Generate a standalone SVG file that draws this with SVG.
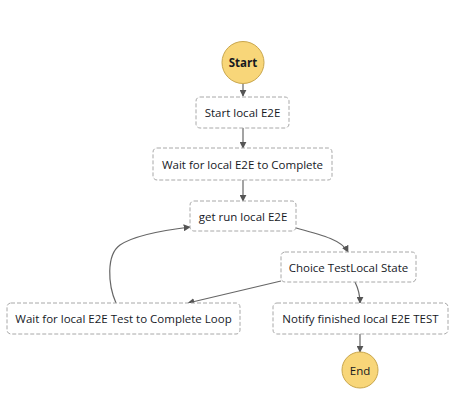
<svg xmlns="http://www.w3.org/2000/svg" width="474" height="402" viewBox="0 0 474 402">
<style>
.box{fill:#fff;stroke:#a8a8a8;stroke-width:1;stroke-dasharray:4 2}
.term{fill:#f8d679;stroke:#c9a64c;stroke-width:1}
.t{font-family:"Open Sans","Liberation Sans",sans-serif;font-size:11.5px;font-weight:500;fill:#16191f;text-anchor:middle;dominant-baseline:central}
.tb{font-weight:bold}
.e{fill:none;stroke:#666;stroke-width:1.2;marker-end:url(#ah)}
</style>
<defs>
<marker id="ah" viewBox="0 0 10 10" refX="9" refY="5" markerWidth="7" markerHeight="7" markerUnits="userSpaceOnUse" orient="auto">
<path d="M0,0 L10,5 L0,10 z" fill="#555"/>
</marker>
</defs>
<rect width="474" height="402" fill="#fff"/>
<g id="edges">
<path class="e" d="M243,84 L243,96"/>
<path class="e" d="M243,128 L243,148"/>
<path class="e" d="M243,180 L243,201"/>
<path class="e" d="M296,228 C322,235 342,240 348,252"/>
<path class="e" d="M281,281 L188,303"/>
<path class="e" d="M355,282 C359,290 360,296 360,303"/>
<path class="e" d="M360,334 L360,352"/>
<path class="e" d="M116,303 C108,285 106,255 120,245 C135,235 165,230 190,227"/>
</g>
<g id="start"><circle class="term" cx="243" cy="62.5" r="21"/><text class="t tb" x="243" y="62.5">Start</text></g>
<g id="startLocal"><rect class="box" x="196" y="97" width="93" height="31" rx="4"/><text class="t" x="242.5" y="112.5">Start local E2E</text></g>
<g id="waitLocal"><rect class="box" x="153" y="148" width="179" height="32" rx="4"/><text class="t" x="242.5" y="164">Wait for local E2E to Complete</text></g>
<g id="getRun"><rect class="box" x="190" y="201" width="106" height="30" rx="4"/><text class="t" x="243" y="216">get run local E2E</text></g>
<g id="choice"><rect class="box" x="281" y="252" width="135" height="30" rx="4"/><text class="t" x="348.5" y="267">Choice TestLocal State</text></g>
<g id="waitLoop"><rect class="box" x="7" y="303" width="233" height="31" rx="4"/><text class="t" x="123.5" y="318.5">Wait for local E2E Test to Complete Loop</text></g>
<g id="notify"><rect class="box" x="273" y="303" width="175" height="31" rx="4"/><text class="t" x="360.5" y="318.5">Notify finished local E2E TEST</text></g>
<g id="end"><circle class="term" cx="360" cy="370" r="18"/><text class="t" x="360" y="370">End</text></g>
</svg>
